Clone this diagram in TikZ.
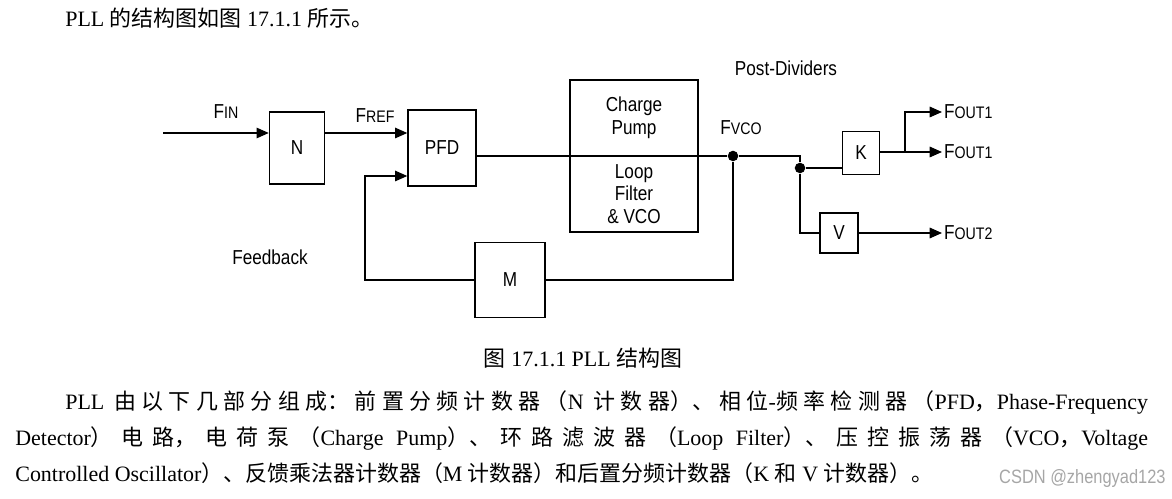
\documentclass[tikz,border=0pt]{standalone}
\usepackage{fontspec}
\setmainfont{Liberation Serif}
\newfontfamily\cjk{Noto Sans CJK SC}
\newfontfamily\blk{Liberation Sans}[FakeStretch=0.85]
\usetikzlibrary{arrows.meta,positioning}
\tikzset{
  blk/.style={draw,thick,minimum width=#1},
  lbl/.style={font=\blk\fontsize{11.5}{13}\selectfont,inner sep=1pt},
  txt/.style={font=\fontsize{12.5}{15}\selectfont,anchor=west,inner sep=0pt},
  sig/.style={thick,-{Triangle[length=7pt,width=6pt]}},
  dot/.style={circle,fill,inner sep=0pt,minimum size=6pt}
}
\begin{document}
\begin{tikzpicture}[x=0.02cm,y=-0.02cm]
  \useasboundingbox (0,0) rectangle (1172,499);

  % Text around the figure
  \node[txt] (head) at (65,18) {PLL {\cjk 的结构图如图} 17.1.1 {\cjk 所示。}};
  \node[txt,anchor=center] (cap) at (583,358) {{\cjk 图} 17.1.1 PLL {\cjk 结构图}};
  \node[txt,anchor=north west,text width=22.66cm,align=justify] (para) at (15,390) {%
    \XeTeXlinebreaklocale "zh"\XeTeXlinebreakskip=0pt plus 2pt\lineskiplimit=-10pt\baselineskip=0.72cm
    \hspace*{1cm}PLL {\cjk 由以下几部分组成：前置分频计数器（}N {\cjk 计数器）、相位}-{\cjk 频率检测器（}PFD{\cjk ，}Phase-Frequency\linebreak
    Detector{\cjk ）电路，电荷泵（}Charge Pump{\cjk ）、环路滤波器（}Loop Filter{\cjk ）、压控振荡器（}VCO{\cjk ，}Voltage\linebreak
    Controlled Oscillator{\cjk ）、反馈乘法器计数器（}M {\cjk 计数器）和后置分频计数器（}K {\cjk 和} V {\cjk 计数器）。}\par};
  \node[font=\blk\fontsize{11}{12}\selectfont,text=gray!70,anchor=east,inner sep=0pt] (wm) at (1166,479) {CSDN @zhengyad123};

  % Blocks
  \node[blk,minimum width=1.1cm,minimum height=1.44cm,lbl] (N) at (297,148) {N};
  \node[blk,minimum width=1.36cm,minimum height=1.52cm,lbl] (PFD) at (442,148) {PFD};
  \node[blk,minimum width=2.56cm,minimum height=1.52cm,align=center,lbl] (CP) at (634,118) {Charge\\Pump};
  \node[blk,minimum width=2.56cm,minimum height=1.52cm,align=center,lbl] (LF) at (634,194) {Loop\\Filter\\\& VCO};
  \node[blk,minimum width=1.4cm,minimum height=1.5cm,lbl] (M) at (510,280) {M};
  \node[blk,minimum width=0.74cm,minimum height=0.86cm,lbl] (K) at (861,153) {K};
  \node[blk,minimum width=0.76cm,minimum height=0.8cm,lbl] (V) at (839,233) {V};

  % Junctions and ends
  \node[dot] (fvco) at (733,156) {};
  \node[dot] (split) at (800,168) {};
  \coordinate (in) at (163,133);
  \coordinate (fb) at (365,176);
  \coordinate (o1) at (942,112);
  \coordinate (o2) at (942,152);
  \coordinate (o3) at (942,233);
  \coordinate (br) at (905,152);

  % Labels
  \node[lbl] (fin) at (226,112) {F{\fontsize{9.5}{10}\selectfont IN}};
  \node[lbl] (fref) at (375,116) {F{\fontsize{9.5}{10}\selectfont REF}};
  \node[lbl] (fv) at (741,128) {F{\fontsize{9.5}{10}\selectfont VCO}};
  \node[lbl] (pd) at (786,68) {Post-Dividers};
  \node[lbl] (fbl) at (270,257) {Feedback};
  \node[lbl,anchor=west] at (o1) {F{\fontsize{9.5}{10}\selectfont OUT1}};
  \node[lbl,anchor=west] at (o2) {F{\fontsize{9.5}{10}\selectfont OUT1}};
  \node[lbl,anchor=west] at (o3) {F{\fontsize{9.5}{10}\selectfont OUT2}};

  % Connections
  \draw[sig] (in) -- (N.west |- in);
  \draw[sig] (N.east |- in) -- (PFD.west |- in);
  \draw[thick] (PFD.east |- fvco) -- (fvco);
  \draw[thick] (fvco) -| (split) -- (K.west |- split);
  \draw[thick] (split) |- (V.west);
  \draw[thick] (K.east |- br) -- (br);
  \draw[sig] (br) -- (o2);
  \draw[sig] (br) |- (o1);
  \draw[sig] (V.east) -- (o3);
  \draw[thick] (M.east) -| (fvco);
  \draw[sig] (M.west) -| (fb) -- (PFD.west |- fb);
\end{tikzpicture}
\end{document}
